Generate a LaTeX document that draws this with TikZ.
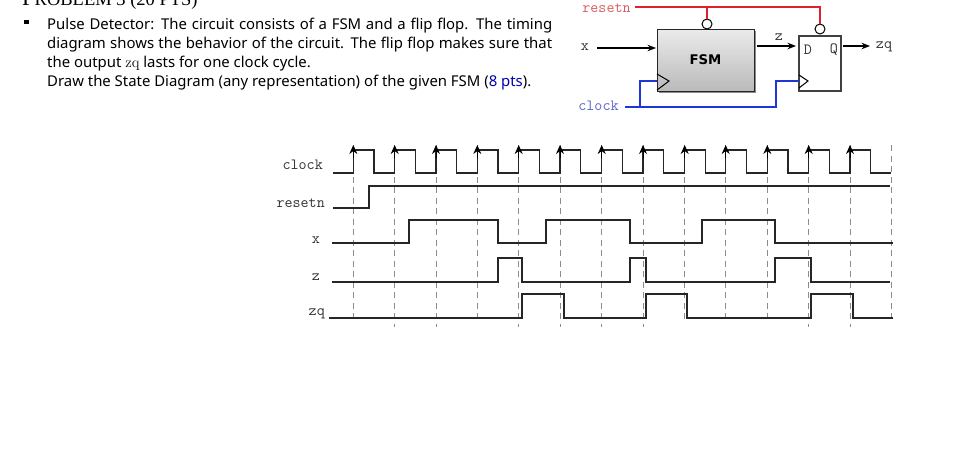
\documentclass[tikz,border=0pt]{standalone}
\usepackage{fontspec}
\usetikzlibrary{arrows.meta,shadows}
\newfontfamily\bodyfont{Noto Sans}
\newfontfamily\boldface{DejaVu Sans}
\newfontfamily\headfont{Liberation Serif}
\definecolor{redw}{HTML}{E0202C}
\definecolor{bluew}{HTML}{1E36D8}
\definecolor{redt}{HTML}{D95A60}
\definecolor{bluet}{HTML}{5A64D0}
\definecolor{ink}{HTML}{333333}
\newcommand{\tline}[1]{\hbox to 505pt{#1}}
\tikzset{
  sig/.style={font=\ttfamily\fontsize{15.6}{17}\selectfont,text=ink,inner sep=0pt},
  body/.style={font=\bodyfont\fontsize{14.9}{19.2}\selectfont,text=black,inner sep=0pt,anchor=north west,align=left},
  wave/.style={line width=1.15pt,draw=black!85},
  guide/.style={line width=.9pt,draw=black!45,dash pattern=on 6pt off 4.5pt},
  wire/.style={line width=1.2pt,-{Stealth[length=8.5pt,width=6.5pt]},draw=black},
  rwire/.style={line width=1.3pt,draw=redw},
  bwire/.style={line width=1.3pt,draw=bluew},
  bubble/.style={circle,draw=black,fill=white,line width=1pt,minimum size=10pt,inner sep=0pt},
  clkmark/.style={line width=1pt,draw=black},
  fsmbox/.style={draw=black!85,line width=1pt,top color=black!8,bottom color=black!27,
    drop shadow={shadow xshift=1.5pt,shadow yshift=-1.5pt,opacity=.45,fill=black},inner sep=0pt},
  ffbox/.style={draw=black!75,line width=1.2pt,fill=white,inner sep=0pt},
}
\begin{document}
\begin{tikzpicture}[x=1pt,y=-1pt]
\useasboundingbox (0,0) rectangle (969,458);
\fill[white] (0,0) rectangle (969,458);
\begin{scope}
\clip (0,0) rectangle (969,458);
\node[anchor=base west,inner sep=0pt,font=\headfont\fontsize{22.5}{24}\selectfont] (head) at (22,5) {P\fontsize{18.5}{24}\selectfont ROBLEM 3 (20 PTS)};
\end{scope}
\fill (24,19.5) rectangle (28.5,24);
\node[body] (txt) at (47,17.5) {%
\tline{Pulse Detector: The circuit consists of a FSM and a flip flop. The timing}\\
\tline{diagram shows the behavior of the circuit. The flip flop makes sure that}\\
the output {\rmfamily zq} lasts for one clock cycle.\\
Draw the State Diagram (any representation) of the given FSM (\textcolor{blue!70!black}{8 pts}).};

% circuit
\node[fsmbox,minimum width=97pt,minimum height=62pt] (fsm) at (705.5,60) {\boldface\bfseries\fontsize{13.3}{16}\selectfont FSM};
\node[ffbox,minimum width=42pt,minimum height=55pt] (ff) at (820,63.5) {};
\node[sig] (ld) at (808,49.5) {D};
\node[sig] (lq) at (834,49.5) {Q};
\node[bubble] (b1) at (707,24) {};
\node[bubble] (b2) at (820,29) {};
\node[sig,text=redt] (lreset) at (606.5,8) {resetn};
\node[sig,text=bluet] (lclock) at (598.5,106) {clock};
\node[sig] (lx) at (585,47) {x};
\node[sig] (lz) at (779,37) {z};
\node[sig] (lzq) at (884,47) {zq};
\coordinate (rj) at (707,7);
\coordinate (rc) at (820,7);
\coordinate (rs) at (635,7);
\draw[rwire] (rs) -- (rj) -- (rc) -- (b2.north);
\draw[rwire] (rj) -- (b1.north);
\coordinate (xs) at (597,48);
\coordinate (xe) at (656,48);
\draw[wire] (xs) -- (xe);
\coordinate (zs) at (757,46);
\coordinate (ze) at (796,46);
\draw[wire] (zs) -- (ze);
\coordinate (qs) at (843,46);
\coordinate (qe) at (870,46);
\draw[wire] (qs) -- (qe);
\coordinate (cs) at (625,107);
\coordinate (cj) at (640,107);
\coordinate (cf) at (776,107);
\coordinate (c1) at (640,81);
\coordinate (c2) at (657,81);
\coordinate (c3) at (776,81);
\coordinate (c4) at (799,81);
\draw[bwire] (cs) -- (cj) -- (cf) -- (c3) -- (c4);
\draw[bwire] (cj) -- (c1) -- (c2);
\draw[clkmark] (657,74) -- (669,81) -- (657,90);
\draw[clkmark] (799,75) -- (808,81) -- (799,88);

% timing labels
\node[sig,anchor=east] (tclock) at (323,165) {clock};
\node[sig,anchor=east] (treset) at (325,203) {resetn};
\node[sig,anchor=east] (tx) at (320,240) {x};
\node[sig,anchor=east] (tz) at (320,277) {z};
\node[sig,anchor=east] (tzq) at (325,314) {zq};

% guides
\foreach \g/\e in {353.3/322,394.7/327,436/327,477.3/322,518.7/327,560/327,601.7/327,643/327,684.7/322,725.7/322,767.3/322,808.7/327,850/327,891.3/322}
  \draw[guide] (\g,145) -- (\g,\e);

% waveforms
\draw[wave] (333,173) -- (353.3,173)
  \foreach \r in {353.3,394.7,436,477.3,518.7,560,601.7,643,684.7,725.7,767.3,808.7,850}{
    -- (\r,173) -- (\r,150) -- ({\r+20.7},150) -- ({\r+20.7},173)}
  -- (891,173);
\foreach \r in {353.3,394.7,436,477.3,518.7,560,601.7,643,684.7,725.7,767.3,808.7,850}
  \draw[line width=1pt,draw=black,-{Stealth[length=9pt,width=8pt]}] (\r,158) -- (\r,145);
\draw[wave] (333,208) -- (369,208) -- (369,186) -- (890,186);
\draw[wave] (332,243) -- (409,243) -- (409,220) -- (498,220) -- (498,243) -- (546,243) -- (546,220) -- (630,220) -- (630,243) -- (702,243) -- (702,220) -- (775,220) -- (775,243) -- (893,243);
\draw[wave] (332,282) -- (498,282) -- (498,258) -- (522,258) -- (522,282) -- (630,282) -- (630,258) -- (646,258) -- (646,282) -- (775,282) -- (775,258) -- (811,258) -- (811,282) -- (890,282);
\draw[wave] (329,318) -- (522,318) -- (522,294) -- (564,294) -- (564,318) -- (646,318) -- (646,294) -- (687,294) -- (687,318) -- (811,318) -- (811,294) -- (853,294) -- (853,318) -- (893,318);
\end{tikzpicture}
\end{document}
